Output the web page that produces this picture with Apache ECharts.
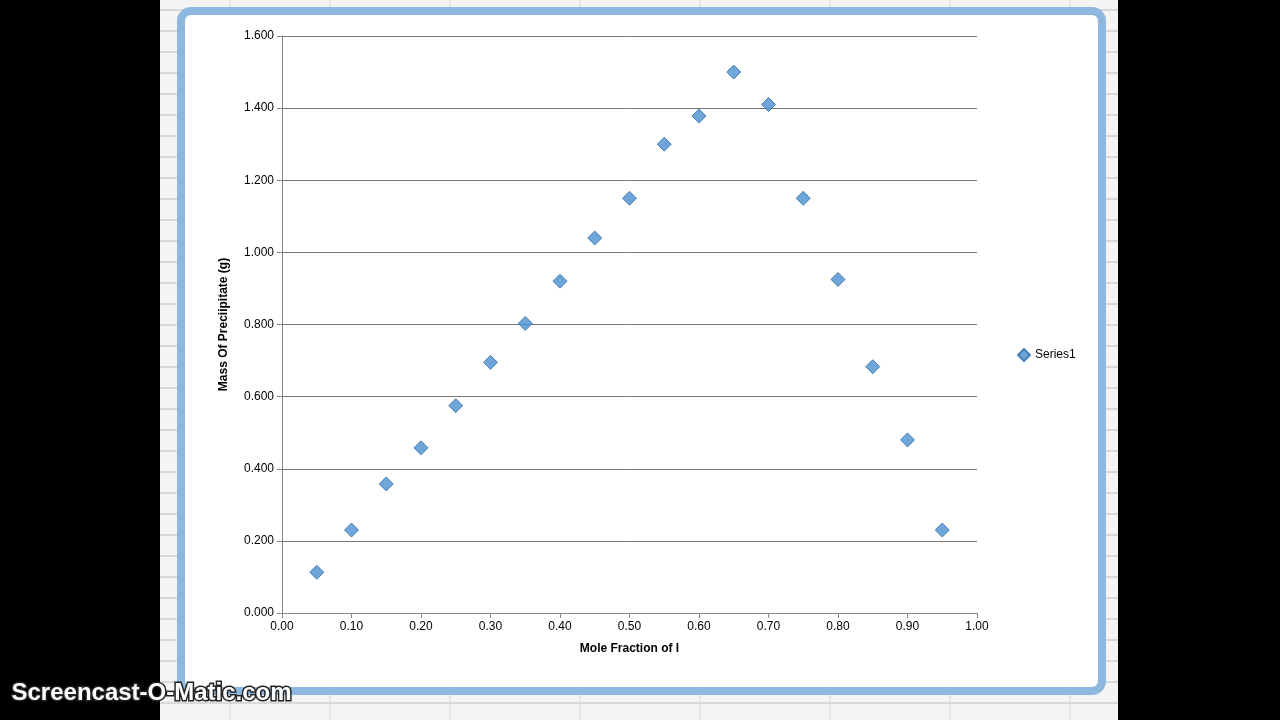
<!DOCTYPE html>
<html>
<head>
<meta charset="utf-8">
<script src="https://cdn.jsdelivr.net/npm/echarts@6/dist/echarts.min.js"></script>
<style>html,body{margin:0;padding:0;background:#000}#c{width:1280px;height:720px}</style>
</head>
<body>
<div id="c"></div>
<script>
var xValues = [0.05, 0.10, 0.15, 0.20, 0.25, 0.30, 0.35, 0.40, 0.45, 0.50, 0.55, 0.60, 0.65, 0.70, 0.75, 0.80, 0.85, 0.90, 0.95];
var massValues = [0.113, 0.230, 0.358, 0.458, 0.575, 0.695, 0.803, 0.920, 1.040, 1.150, 1.300, 1.378, 1.500, 1.410, 1.150, 0.925, 0.683, 0.480, 0.230];
var seriesName = 'Series1';

var points = xValues.map(function (x, i) { return [x, massValues[i]]; });

// spreadsheet background cells
var bg = [
    {type: 'rect', shape: {x: 160, y: 0, width: 958, height: 720}, style: {fill: '#f4f4f4'}, z: -10}
];
[0, 18, 36, 54, 72, 90].forEach(function (k) {
    for (var y = 10; y < 720; y += 21) {
        bg.push({type: 'line', shape: {x1: 160, y1: y, x2: 1118, y2: y}, style: {stroke: '#d8d8d8', lineWidth: 1}, z: -9});
    }
});
[230, 330, 450, 580, 700, 830, 950, 1070].forEach(function (x) {
    bg.push({type: 'line', shape: {x1: x, y1: 0, x2: x, y2: 720}, style: {stroke: '#d8d8d8', lineWidth: 1}, z: -9});
});
bg.push({type: 'rect', shape: {x: 181, y: 11, width: 921, height: 680, r: 10},
    style: {fill: '#ffffff', stroke: '#8fb8e0', lineWidth: 8}, z: -8});
bg.push({type: 'text', left: 10, top: 680, z: 10,
    style: {text: 'Screencast-O-Matic.com', fill: '#ffffff', font: 'bold 24px "Liberation Sans", Arial',
        stroke: '#222', lineWidth: 3}});

var myChart = echarts.init(document.getElementById('c'));
var option = {
    backgroundColor: '#000000',
    animation: false,
    graphic: bg,
    grid: {left: 282, right: 303, top: 36, bottom: 107},
    legend: {
        data: [seriesName], orient: 'vertical', left: 1012, top: 343,
        itemWidth: 12, itemHeight: 12, itemGap: 4,
        textStyle: {fontSize: 12, color: '#000', fontFamily: 'Liberation Sans'}
    },
    xAxis: {
        type: 'value', min: 0, max: 1, interval: 0.1,
        name: 'Mole Fraction of I', nameLocation: 'middle', nameGap: 30,
        nameTextStyle: {fontSize: 12, fontWeight: 'bold', color: '#000', fontFamily: 'Liberation Sans'},
        axisLine: {lineStyle: {color: '#888'}},
        axisTick: {show: true, lineStyle: {color: '#888'}},
        splitLine: {show: false},
        axisLabel: {color: '#000', fontSize: 12, fontFamily: 'Liberation Sans', formatter: function (v) { return v.toFixed(2); }}
    },
    yAxis: {
        type: 'value', min: 0, max: 1.6, interval: 0.2,
        name: 'Mass Of Preciipitate (g)', nameLocation: 'middle', nameGap: 52,
        nameTextStyle: {fontSize: 12, fontWeight: 'bold', color: '#000', fontFamily: 'Liberation Sans'},
        axisLine: {show: true, lineStyle: {color: '#888'}},
        axisTick: {show: true, lineStyle: {color: '#888'}},
        splitLine: {lineStyle: {color: '#777'}},
        axisLabel: {color: '#000', fontSize: 12, fontFamily: 'Liberation Sans', formatter: function (v) { return v.toFixed(3); }}
    },
    series: [{
        name: seriesName, type: 'scatter', symbol: 'diamond', symbolSize: 14,
        itemStyle: {color: '#4a90d0', borderColor: '#2f6ea8', borderWidth: 1},
        data: points
    }]
};
myChart.setOption(option, true);
</script>
</body>
</html>
